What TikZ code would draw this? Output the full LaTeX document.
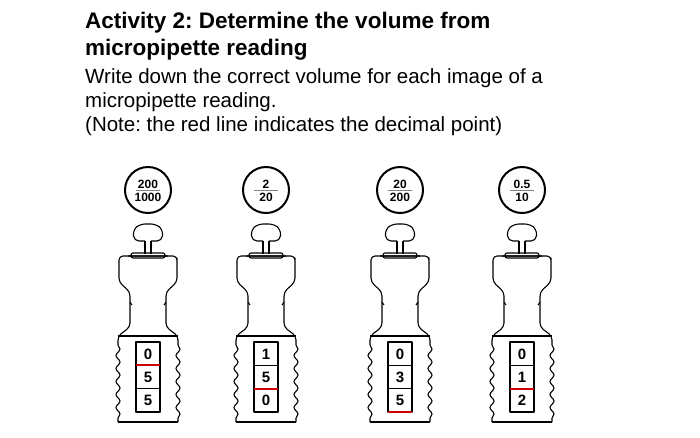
\documentclass[tikz,border=0pt]{standalone}
\usepackage{fontspec}
\setmainfont{Liberation Sans}
\frenchspacing
\usetikzlibrary{decorations.pathmorphing}
\tikzset{ol/.style={line width=1.1pt,line join=round},
 wav/.style={ol,decorate,decoration={snake,amplitude=2pt,segment length=13pt}},
 dig/.style={font=\fontsize{15}{15}\selectfont\bfseries},
 frac/.style={font=\fontsize{12}{12}\selectfont\bfseries,inner sep=0pt},
 ttl/.style={anchor=base west,inner sep=0pt,font=\fontsize{22.5}{23}\selectfont\bfseries},
 bdy/.style={anchor=base west,inner sep=0pt,font=\fontsize{20.5}{21}\selectfont}}
\newcommand{\pip}[7]{%
\begin{scope}[shift={(#1,190)}]
\draw[line width=2pt] (0,0) circle (23pt);
\node[frac] (n#7a) at (0,-6) {#2};
\node[frac] (n#7b) at (0,7.5) {#3};
\draw[line width=0.5pt,gray] (-12,0.5)--(12,0.5);
\draw[ol,rounded corners=5] (-3,51)--(-14,51)--(-15,40)--(-8,34)--(8,34)--(15,40)--(14,51)--(3,51);
\draw[ol] (-3,51)--(-3,64) (3,51)--(3,64);
\draw[ol,rounded corners=2] (-17,63) rectangle (17,68);
\draw[ol,rounded corners=4] (-20,66)--(29,66)--(29,72)--(29,92)--(18,102)--(18,137)--(30,146)--(30,155);
\draw[ol,rounded corners=4] (20,66)--(-29,66)--(-29,92)--(-18,102)--(-18,137)--(-30,146)--(-30,155);
\draw[ol] (-18,112) -- (-16,115) (18,112)--(16,115);
\draw[ol] (-30,146)--(30,146);
\draw[wav] (30,155)--(30,232);
\draw[wav] (-30,155)--(-30,232);
\draw[ol] (-30,232)--(30,232);
\draw[ol] (-12,152) rectangle (12,222);
\draw[ol] (-12,175.3)--(12,175.3) (-12,198.7)--(12,198.7);
\node[dig] (d#7a) at (0,164) {#4};
\node[dig] (d#7b) at (0,187) {#5};
\node[dig] (d#7c) at (0,210.5) {#6};
\end{scope}}
\begin{document}
\begin{tikzpicture}[x=1pt,y=-1pt]
\useasboundingbox (0,0) rectangle (700,437);
\fill[white] (0,0) rectangle (700,437);
\node[ttl] (t1) at (85,28) {Activity 2: Determine the volume from};
\node[ttl] (t2) at (85,55) {micropipette reading};
\node[bdy] (t3) at (85,83) {Write down the correct volume for each image of a};
\node[bdy] (t4) at (85,107) {micropipette reading.};
\node[bdy] (t5) at (85,131) {(Note: the red line indicates the decimal point)};
\pip{148}{200}{1000}{0}{5}{5}{A}
\pip{266}{2}{20}{1}{5}{0}{B}
\pip{400}{20}{200}{0}{3}{5}{C}
\pip{522}{0.5}{10}{0}{1}{2}{D}
\begin{scope}[red!80!black,line width=2pt]
\draw (136,365.3)--(160,365.3);
\draw (254,388.7)--(278,388.7);
\draw (388,412)--(412,412);
\draw (510,388.7)--(534,388.7);
\end{scope}
\end{tikzpicture}
\end{document}
